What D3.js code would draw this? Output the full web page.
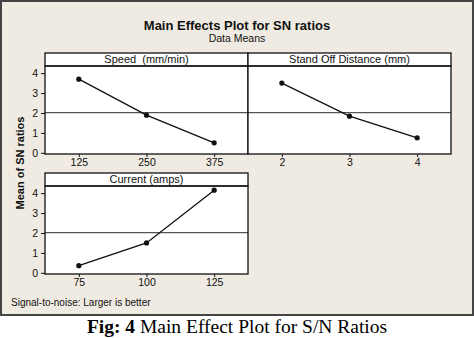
<!DOCTYPE html>
<html><head><meta charset="utf-8">
<script src="https://cdn.jsdelivr.net/npm/d3@7"></script>
<style>html,body{margin:0;padding:0;background:#fff;}svg{display:block;} text{white-space:pre;}</style>
</head><body>
<script>
// Data
const speedLevels = ["125", "250", "375"];
const speedSN = [3.70, 1.89, 0.50];
const sodLevels = ["2", "3", "4"];
const sodSN = [3.50, 1.84, 0.75];
const currentLevels = ["75", "100", "125"];
const currentSN = [0.36, 1.50, 4.15];
const yTicks = [0, 1, 2, 3, 4];
const panelTitles = ["Speed  (mm/min)", "Stand Off Distance (mm)", "Current (amps)"];

const W = 474, H = 338;
const svg = d3.select("body").append("svg").attr("width", W).attr("height", H);
const font = "'Liberation Sans', Arial, sans-serif";

// outer frame
svg.append("rect").attr("x", 1).attr("y", 1).attr("width", W - 2).attr("height", 314)
  .attr("fill", "#efebe2").attr("stroke", "#444").attr("stroke-width", 2);

svg.append("text").attr("x", 237).attr("y", 30).attr("text-anchor", "middle")
  .attr("font-family", font).attr("font-weight", "bold").attr("font-size", 13).attr("fill", "#111")
  .text("Main Effects Plot for SN ratios");
svg.append("text").attr("x", 237).attr("y", 42).attr("text-anchor", "middle")
  .attr("font-family", font).attr("font-size", 10.5).attr("fill", "#111")
  .text("Data Means");

const allVals = speedSN.concat(sodSN).concat(currentSN);
const grandMean = d3.mean(allVals);

const panels = [
  {levels: speedLevels, vals: speedSN, title: panelTitles[0], x0: 45, y0: 53, yAxis: true},
  {levels: sodLevels, vals: sodSN, title: panelTitles[1], x0: 248, y0: 53, yAxis: false},
  {levels: currentLevels, vals: currentSN, title: panelTitles[2], x0: 45, y0: 173, yAxis: true}
];
const pw = 203, stripH = 13, plotH = 88;

panels.forEach(p => {
  const g = svg.append("g");
  const top = p.y0 + stripH, bottom = top + plotH;
  const x = d3.scalePoint().domain(p.levels).range([p.x0, p.x0 + pw]).padding(0.5);
  const y = d3.scaleLinear().domain([-0.06, 4.36]).range([bottom, top]);

  g.append("rect").attr("x", p.x0).attr("y", top).attr("width", pw).attr("height", plotH)
    .attr("fill", "#fff");
  // reference line
  g.append("line").attr("x1", p.x0).attr("x2", p.x0 + pw)
    .attr("y1", y(grandMean)).attr("y2", y(grandMean))
    .attr("stroke", "#555").attr("stroke-width", 1.2);
  // strip
  g.append("rect").attr("x", p.x0).attr("y", p.y0).attr("width", pw).attr("height", stripH)
    .attr("fill", "#fff").attr("stroke", "#111").attr("stroke-width", 1.3);
  g.append("text").attr("x", p.x0 + pw / 2).attr("y", p.y0 + 10.3).attr("text-anchor", "middle")
    .attr("font-family", font).attr("font-size", 11).attr("fill", "#111").text(p.title);
  g.append("rect").attr("x", p.x0).attr("y", top).attr("width", pw).attr("height", plotH)
    .attr("fill", "none").attr("stroke", "#111").attr("stroke-width", 1.3);

  // x axis
  const xa = g.append("g").attr("transform", `translate(0,${bottom})`)
    .call(d3.axisBottom(x).tickSize(3).tickPadding(2));
  xa.select(".domain").remove();
  xa.selectAll("line").attr("stroke", "#111");
  xa.selectAll("text").attr("font-family", font).attr("font-size", 10.5).attr("fill", "#111");

  if (p.yAxis) {
    const ya = g.append("g").attr("transform", `translate(${p.x0},0)`)
      .call(d3.axisLeft(y).tickValues(yTicks).tickFormat(d3.format("d")).tickSize(4).tickPadding(3));
    ya.select(".domain").remove();
    ya.selectAll("line").attr("stroke", "#111");
    ya.selectAll("text").attr("font-family", font).attr("font-size", 10.5).attr("fill", "#111");
  }

  const line = d3.line().x((d, i) => x(p.levels[i])).y(d => y(d));
  g.append("path").datum(p.vals).attr("d", line).attr("fill", "none")
    .attr("stroke", "#111").attr("stroke-width", 1.3);
  g.selectAll("circle.pt").data(p.vals).enter().append("circle")
    .attr("cx", (d, i) => x(p.levels[i])).attr("cy", d => y(d)).attr("r", 2.6).attr("fill", "#111");
});

// y label
svg.append("text").attr("transform", "translate(24,163) rotate(-90)").attr("text-anchor", "middle")
  .attr("font-family", font).attr("font-weight", "bold").attr("font-size", 11).attr("fill", "#111")
  .text("Mean of SN ratios");

svg.append("text").attr("x", 11).attr("y", 306)
  .attr("font-family", font).attr("font-size", 10).attr("fill", "#111")
  .text("Signal-to-noise: Larger is better");

// caption
const cap = svg.append("text").attr("x", 237).attr("y", 333).attr("text-anchor", "middle")
  .attr("font-family", "'Liberation Serif', 'Times New Roman', serif").attr("font-size", 19.5).attr("fill", "#000");
cap.append("tspan").attr("font-weight", "bold").text("Fig: 4");
cap.append("tspan").text(" Main Effect Plot for S/N Ratios");
</script>
</body></html>
